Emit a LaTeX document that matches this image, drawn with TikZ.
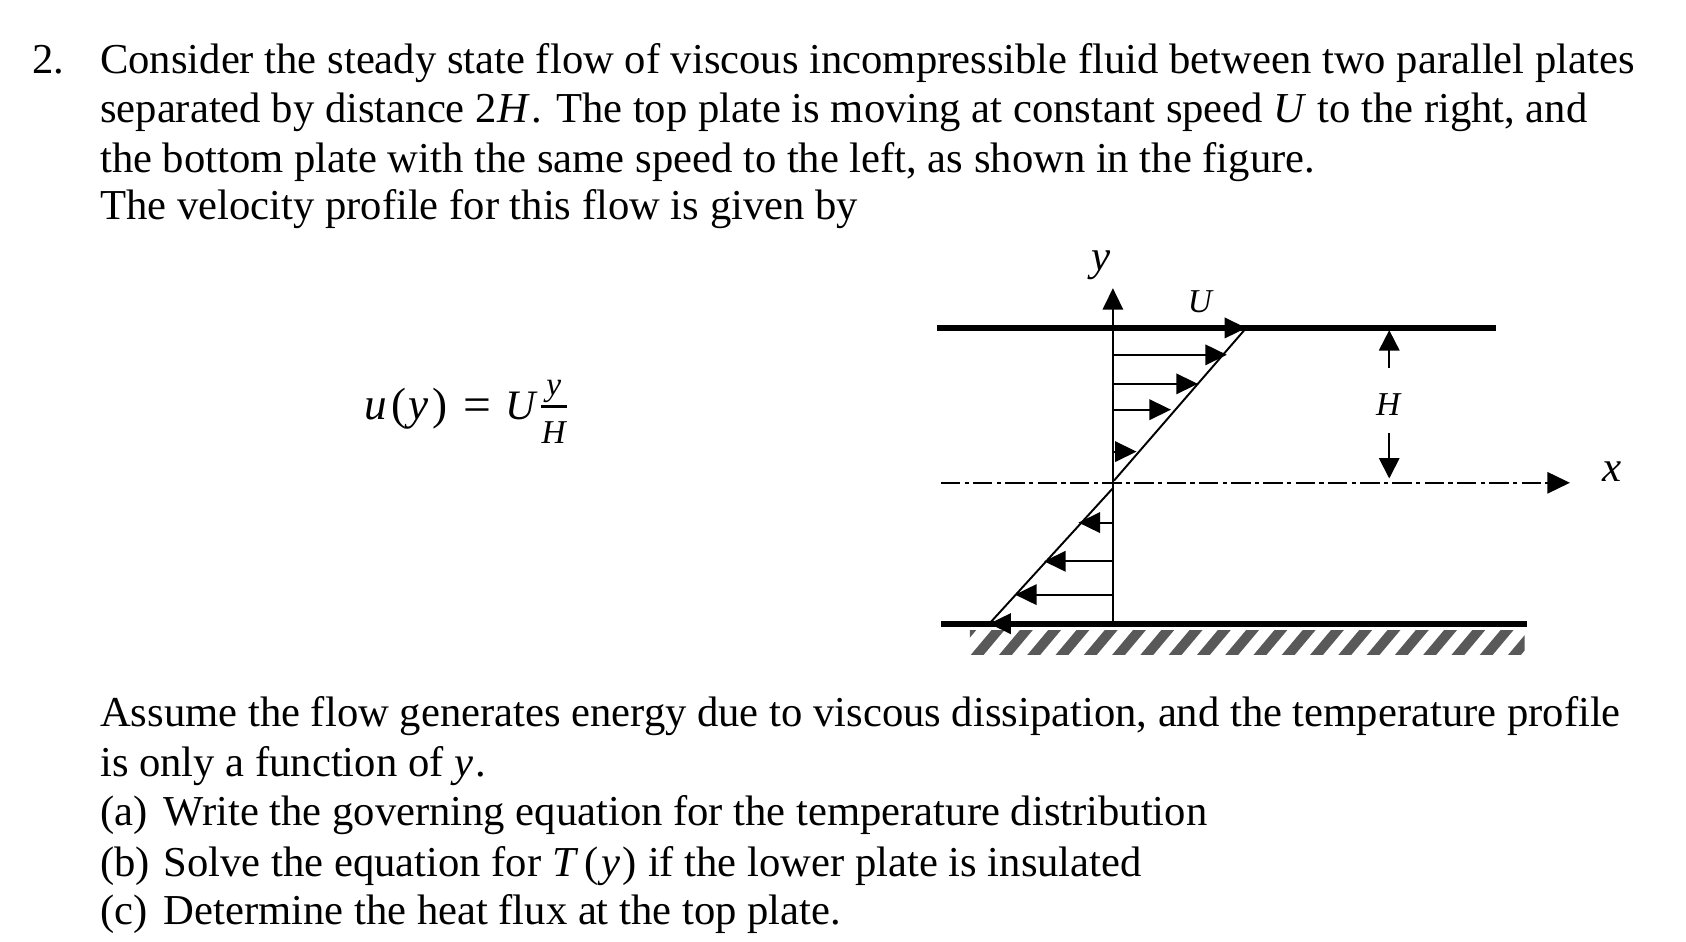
\documentclass[tikz,border=0pt]{standalone}
\usepackage{fontspec}
\setmainfont{Liberation Serif}
\usetikzlibrary{arrows.meta}
\tikzset{
  txt/.style={anchor=base west,inner sep=0pt,font=\fontsize{39.65}{41}\selectfont},
  lbl/.style={inner sep=0pt,font=\fontsize{40}{42}\selectfont\itshape},
  mlbl/.style={inner sep=0pt,font=\fontsize{31}{33}\selectfont\itshape},
  plate/.style={line width=5.5pt,black},
  thin line/.style={line width=1.8pt,black},
  headed/.style={thin line,-{Triangle[length=20pt,width=19pt]}},
  small headed/.style={thin line,-{Triangle[length=19pt,width=19pt]}},
  centre line/.style={line width=1.4pt,dash pattern=on 18pt off 4pt on 4pt off 4pt,-{Triangle[length=21pt,width=20pt]}},
}
\begin{document}
\begin{tikzpicture}[x=1pt,y=-1pt]
\useasboundingbox (0,0) rectangle (1568,876);
% text
\node[txt] (n) at (30,68) {2.};
\node[txt] (l1) at (93,68) {Consider the steady state flow of viscous incompressible fluid between two parallel plates};
\node[txt] (l2) at (93,114) {separated by distance 2\hspace{1pt}\textit{H}\hspace{1pt}.\hspace{3pt} The top plate is moving at constant speed \textit{U} to the right, and};
\node[txt] (l3) at (93,160) {the bottom plate with the same speed to the left, as shown in the figure.};
\node[txt] (l4) at (93,204) {The velocity profile for this flow is given by};
\node[txt] (l5) at (93,676) {Assume the flow generates energy due to viscous dissipation, and the temperature profile};
\node[txt] (l6) at (93,722) {is only a function of \textit{y}\hspace{2pt}.};
\node[txt] (l7a) at (93,768) {(a)};
\node[txt] (l7) at (152,768) {Write the governing equation for the temperature distribution};
\node[txt] (l8a) at (93,815) {(b)};
\node[txt] (l8) at (152,815) {Solve the equation for \textit{T}\hspace{6pt}(\hspace{2pt}\textit{y}\hspace{2pt})\hspace{1pt} if the lower plate is insulated};
\node[txt] (l9a) at (93,860) {(c)};
\node[txt] (l9) at (152,860) {Determine the heat flux at the top plate.};
% formula
\node[txt,font=\fontsize{42}{44}\selectfont] (eq1) at (339,390) {\textit{u}\hspace{4pt}(\hspace{2pt}\textit{y}\hspace{3pt})};
\node[txt,font=\fontsize{46}{48}\selectfont] (eq2) at (431,392) {=};
\node[txt,font=\fontsize{39}{41}\selectfont\itshape] (eq3) at (470,390) {U};
\node[mlbl] (fy) at (515,364) {y};
\node[mlbl] (fH) at (515,402) {H};
\coordinate (fa) at (503,378); \coordinate (fb) at (527,378);
\draw[line width=2.5pt] (fa) -- (fb);
% hatch
\begin{scope}
\clip (902,586) rectangle (1418,609);
\foreach \i in {-1,...,20}{
  \fill[black!65] ({902+\i*26.3},610) -- ({914+\i*26.3},610) -- ({935+\i*26.3},585) -- ({923+\i*26.3},585) -- cycle;
}
\end{scope}
% plates
\coordinate (tl) at (871,305); \coordinate (tr) at (1391,305);
\coordinate (bl) at (875,580); \coordinate (br) at (1420,580);
\draw[plate] (tl) -- (tr);
\draw[plate] (bl) -- (br);
% axes
\coordinate (o) at (1035,580); \coordinate (yt) at (1035,268);
\draw[headed] (o) -- (yt);
\coordinate (cl) at (875,449); \coordinate (cr) at (1460,449);
\draw[centre line] (cl) -- (cr);
% profile
\coordinate (p1) at (1159,305); \coordinate (p2) at (1036,447);
\coordinate (p3) at (1035,454); \coordinate (p4) at (921,579);
\draw[thin line] (p1) -- (p2);
\draw[thin line] (p3) -- (p4);
% upper velocity arrows
\coordinate (a0) at (1035,305); \coordinate (b0) at (1159,305);
\coordinate (a1) at (1036,330); \coordinate (b1) at (1141,330);
\coordinate (a2) at (1036,357); \coordinate (b2) at (1114,357);
\coordinate (a3) at (1036,381); \coordinate (b3) at (1089,381);
\coordinate (a4) at (1036,420); \coordinate (b4) at (1057,420);
\draw[headed] (a0) -- (b0);
\draw[headed] (a1) -- (b1);
\draw[headed] (a2) -- (b2);
\draw[headed] (a3) -- (b3);
\draw[headed] (a4) -- (b4);
% lower velocity arrows
\coordinate (c1) at (1035,486); \coordinate (d1) at (1003,486);
\coordinate (c2) at (1035,522); \coordinate (d2) at (971,522);
\coordinate (c3) at (1035,553); \coordinate (d3) at (944,553);
\coordinate (c4) at (1035,580); \coordinate (d4) at (920,580);
\draw[headed] (c1) -- (d1);
\draw[headed] (c2) -- (d2);
\draw[headed] (c3) -- (d3);
\draw[headed] (c4) -- (d4);
% H dimension
\coordinate (h1) at (1292,342); \coordinate (h2) at (1292,307);
\coordinate (h3) at (1292,403); \coordinate (h4) at (1292,445);
\draw[small headed] (h1) -- (h2);
\draw[small headed] (h3) -- (h4);
% labels
\node[lbl] (ly) at (1024,247) {y};
\node[mlbl] (lU) at (1116,281) {U};
\node[mlbl] (lH) at (1291,376) {H};
\node[lbl] (lx) at (1499,439) {x};
\end{tikzpicture}
\end{document}
